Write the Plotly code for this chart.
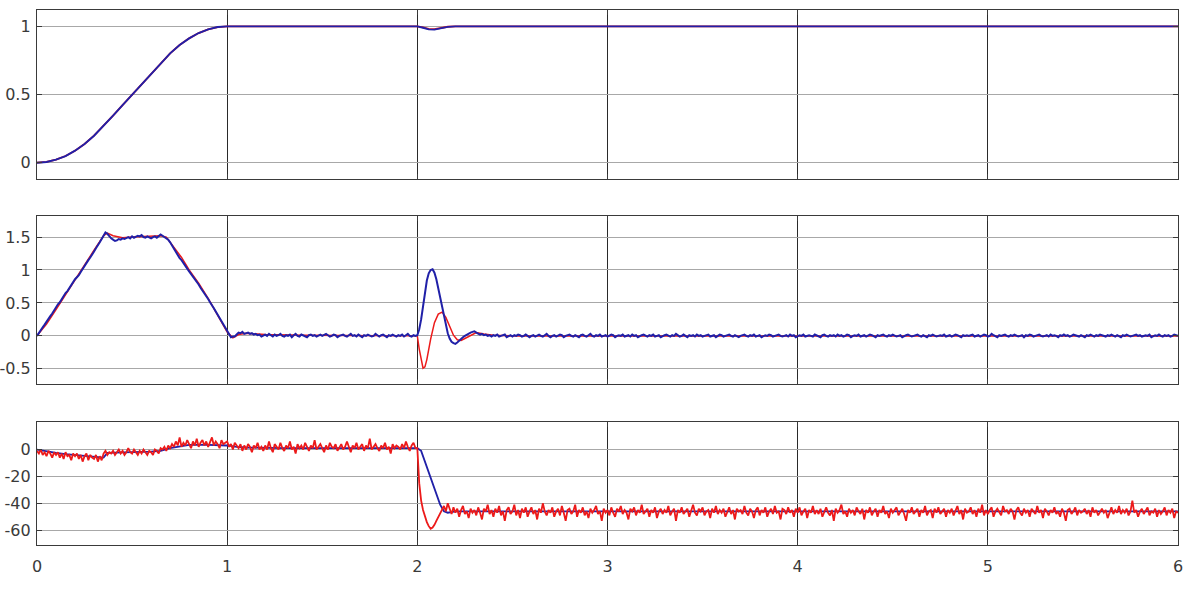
import plotly.graph_objects as go
from plotly.subplots import make_subplots

# ---------------- Panel 1: position ----------------
pos_t = [0, 0.05, 0.1, 0.15, 0.2, 0.25, 0.3, 0.35, 0.4, 0.45, 0.5, 0.55, 0.6, 0.65,
         0.7, 0.75, 0.8, 0.85, 0.9, 0.95, 1.0, 1.5, 2.0, 2.03, 2.06, 2.09, 2.12, 2.16, 2.2, 3, 6]
pos_blue = [0, 0.0055, 0.022, 0.049, 0.088, 0.137, 0.198, 0.269, 0.346, 0.423, 0.5, 0.577,
            0.654, 0.731, 0.802, 0.863, 0.912, 0.951, 0.978, 0.995, 1.0, 1.0, 1.0, 0.99,
            0.978, 0.976, 0.985, 0.996, 1.0, 1.0, 1.0]
pos_red = [0, 0.0055, 0.022, 0.049, 0.088, 0.137, 0.198, 0.269, 0.346, 0.423, 0.5, 0.577,
           0.654, 0.731, 0.802, 0.863, 0.912, 0.951, 0.978, 0.995, 1.0, 1.0, 1.0, 0.992,
           0.981, 0.979, 0.987, 0.997, 1.0, 1.0, 1.0]

# ---------------- Panel 2: velocity ----------------
vel_dt = 0.01
vel_blue = [
    0.00, 0.05, 0.09, 0.13, 0.17, 0.22, 0.27, 0.30, 0.34, 0.39,
    0.44, 0.48, 0.51, 0.56, 0.61, 0.65, 0.68, 0.73, 0.77, 0.82,
    0.86, 0.89, 0.92, 0.97, 1.02, 1.06, 1.11, 1.15, 1.19, 1.23,
    1.28, 1.33, 1.37, 1.42, 1.47, 1.52, 1.57, 1.55, 1.51, 1.48,
    1.46, 1.44, 1.45, 1.47, 1.46, 1.48, 1.47, 1.49, 1.50, 1.48,
    1.51, 1.49, 1.50, 1.52, 1.51, 1.53, 1.50, 1.49, 1.51, 1.50,
    1.48, 1.50, 1.51, 1.49, 1.52, 1.54, 1.52, 1.50, 1.49, 1.46,
    1.42, 1.37, 1.32, 1.28, 1.23, 1.18, 1.15, 1.10, 1.06, 1.02,
    0.98, 0.94, 0.90, 0.87, 0.82, 0.78, 0.73, 0.69, 0.65, 0.60,
    0.56, 0.51, 0.47, 0.42, 0.37, 0.32, 0.27, 0.22, 0.16, 0.11,
    0.06, 0.01, -0.02, -0.01, -0.01, 0.02, 0.05, 0.04, 0.06, 0.03,
    0.04, 0.05, 0.03, 0.04, 0.02, 0.03, 0.01, 0.02, -0.01, 0.01,
    0.02, 0.00, 0.03, 0.01, -0.01, 0.02, 0.00, 0.01, 0.03, 0.00,
    -0.01, 0.01, 0.00, 0.02, -0.02, 0.01, 0.03, 0.00, -0.01, 0.02,
    0.01, 0.00, -0.02, 0.01, 0.02, 0.00, 0.01, -0.01, 0.00, 0.02,
    0.00, 0.01, 0.03, 0.01, -0.01, 0.00, 0.02, 0.01, -0.02, 0.00,
    0.01, 0.02, 0.00, -0.01, 0.01, 0.03, 0.00, 0.01, -0.01, 0.02,
    0.00, -0.02, 0.01, 0.00, 0.02, 0.01, -0.01, 0.00, 0.03, 0.01,
    -0.01, 0.01, 0.02, 0.00, -0.02, 0.01, 0.00, 0.02, 0.01, -0.01,
    0.01, 0.00, 0.02, -0.01, 0.01, 0.03, 0.00, -0.01, 0.01, 0.00,
    0.01, 0.10, 0.25, 0.45, 0.66, 0.84, 0.95, 1.00, 1.01, 0.96,
    0.86, 0.72, 0.57, 0.42, 0.27, 0.14, 0.04, -0.04, -0.09, -0.11,
    -0.12, -0.10, -0.07, -0.04, -0.02, 0.00, 0.02, 0.03, 0.05, 0.06,
    0.07, 0.05, 0.04, 0.02, 0.03, 0.01, 0.02, 0.00, 0.01, -0.01,
    0.01, 0.00, 0.02, -0.01, 0.00, 0.01, 0.02, -0.02, 0.00, 0.01,
    -0.01, 0.01, 0.00, 0.02, 0.01, -0.01, 0.00, 0.02, 0.00, -0.02,
    0.00, 0.01, -0.01, 0.01, 0.02, 0.00, -0.01, 0.01, 0.03, 0.00,
    -0.02, 0.00, 0.01, -0.01, 0.00, 0.02, 0.01, -0.02, 0.00, 0.01,
    0.02, 0.00, -0.01, 0.01, 0.00, -0.02, 0.01, 0.02, 0.00, -0.01,
    0.01, 0.03, 0.00, -0.01, 0.01, 0.00, 0.02, -0.01, 0.00, 0.01,
    -0.01, 0.00, 0.02, 0.01, -0.02, 0.00, 0.01, 0.00, 0.02, -0.01,
    0.00, 0.01, -0.01, 0.02, 0.00, 0.01, -0.02, 0.00, 0.01, 0.02,
    0.00, -0.01, 0.01, 0.00, 0.02, -0.01, 0.00, 0.01, -0.02, 0.00,
    0.01, 0.02, 0.00, -0.01, 0.01, 0.00, 0.03, 0.01, -0.01, 0.00,
    0.02, 0.00, -0.02, 0.01, 0.00, 0.01, -0.01, 0.02, 0.00, 0.01,
    -0.01, 0.00, 0.01, 0.02, -0.01, 0.00, 0.01, -0.02, 0.00, 0.02,
    0.01, -0.01, 0.00, 0.01, 0.02, 0.00, -0.01, 0.01, 0.00, -0.02,
    0.00, 0.01, 0.02, 0.00, -0.01, 0.01, 0.00, 0.02, -0.01, 0.00,
    0.01, -0.02, 0.00, 0.01, 0.00, 0.02, 0.01, -0.01, 0.00, 0.01,
    0.02, 0.00, -0.01, 0.00, 0.01, -0.01, 0.02, 0.00, 0.01, -0.02,
    0.00, 0.01, 0.00, 0.02, -0.01, 0.00, 0.01, 0.00, -0.01, 0.02,
    0.01, 0.00, -0.02, 0.01, 0.02, 0.00, -0.01, 0.01, 0.00, 0.01,
    -0.01, 0.02, 0.00, 0.01, -0.01, 0.00, 0.02, 0.01, -0.02, 0.00,
    0.01, 0.00, 0.02, -0.01, 0.00, 0.01, -0.01, 0.00, 0.02, 0.01,
    0.00, -0.02, 0.01, 0.00, 0.01, 0.02, 0.00, -0.01, 0.01, 0.00,
    0.02, 0.01, -0.01, 0.00, 0.01, -0.02, 0.00, 0.01, 0.02, 0.00,
    -0.01, 0.00, 0.01, 0.02, 0.00, -0.01, 0.01, 0.00, -0.02, 0.01,
    0.00, 0.02, 0.01, -0.01, 0.00, 0.01, 0.00, 0.02, -0.01, 0.00,
    0.01, -0.01, 0.00, 0.02, 0.01, 0.00, -0.02, 0.01, 0.00, 0.01,
    0.00, 0.01, 0.02, -0.01, 0.00, 0.01, -0.01, 0.00, 0.02, 0.01,
    -0.01, 0.00, 0.03, 0.01, 0.00, -0.02, 0.01, 0.00, 0.01, 0.02,
    0.00, -0.01, 0.01, 0.00, 0.02, 0.01, -0.01, 0.00, 0.01, -0.02,
    0.01, 0.00, 0.02, 0.01, -0.01, 0.00, 0.01, 0.02, 0.00, -0.01,
    0.00, 0.01, -0.01, 0.02, 0.00, 0.01, 0.00, -0.02, 0.01, 0.00,
    0.02, 0.00, 0.01, -0.01, 0.00, 0.02, 0.01, 0.00, -0.01, 0.01,
    0.00, -0.02, 0.01, 0.00, 0.02, 0.00, -0.01, 0.01, 0.00, 0.02,
    0.01, 0.00, -0.01, 0.01, 0.00, 0.02, 0.00, -0.01, 0.01, 0.00,
    -0.02, 0.01, 0.00, 0.02, 0.01, -0.01, 0.00, 0.01, 0.02, 0.00,
    0.01, -0.01, 0.00, 0.01, 0.00, 0.02, -0.02, 0.00, 0.01, 0.00,
    0.02, 0.00, -0.01, 0.01, 0.00, 0.01, -0.01, 0.00, 0.02, 0.01,
    0.00,
]
vel_red_t = [0, 0.05, 0.1, 0.15, 0.2, 0.25, 0.3, 0.35, 0.37, 0.4, 0.45, 0.5, 0.55, 0.6,
             0.65, 0.68, 0.72, 0.76, 0.8, 0.85, 0.9, 0.95, 1.0, 1.03, 1.06, 1.1, 1.2, 1.4,
             1.6, 1.8, 2.0, 2.01, 2.02, 2.03, 2.04, 2.05, 2.07, 2.09, 2.11, 2.13, 2.15,
             2.17, 2.19, 2.21, 2.23, 2.25, 2.28, 2.31, 2.35, 2.4, 2.5, 3, 4, 5, 6]
vel_red = [0, 0.18, 0.40, 0.63, 0.85, 1.07, 1.30, 1.52, 1.56, 1.52, 1.49, 1.50, 1.51, 1.51,
           1.52, 1.50, 1.35, 1.19, 1.00, 0.80, 0.57, 0.32, 0.06, -0.03, 0.02, 0.04, 0.02,
           0.01, 0.01, 0.0, 0.0, -0.20, -0.38, -0.49, -0.47, -0.36, -0.05, 0.20, 0.33,
           0.36, 0.28, 0.14, 0.01, -0.06, -0.07, -0.04, 0.01, 0.05, 0.03, 0.01, 0.0, 0.0,
           0.0, 0.0, 0.0]

# ---------------- Panel 3: torque ----------------
tq_dt = 0.01
tq_red = [
    -1, -3, 0, -4, -2, -5, -1, -3, -6, -2,
    -4, -2, -6, -3, -7, -2, -5, -4, -8, -3,
    -5, -3, -7, -4, -9, -5, -3, -8, -4, -6,
    -7, -4, -9, -5, -8, -3, -1, -4, -2, -3,
    -1, -4, -2, 0, -3, -1, -4, -2, 1, -2,
    -3, 0, -2, -4, -1, -3, 0, -2, -4, -1,
    -2, -4, 0, -1, -3, 1, 0, 2, -1, 3,
    1, 4, 2, 6, 3, 9, 2, 5, 3, 7,
    4, 1, 6, 3, 8, 2, 5, 7, 3, 6,
    2, 5, 9, 3, 6, 4, 1, 7, 4, 5,
    6, 2, 4, 0, 5, 3, 1, 4, -1, 3,
    0, 4, 2, -2, 3, 1, 5, 0, 2, -1,
    3, 0, 6, 1, -2, 4, 2, 0, 5, 1,
    -1, 3, 1, 6, 0, 2, -3, 4, 1, 3,
    0, 5, 2, -1, 3, 1, 7, 0, 2, 4,
    1, -2, 3, 0, 5, 2, 1, 4, -1, 2,
    4, 0, 2, 6, 1, -2, 3, 1, 5, 0,
    2, 4, -1, 3, 1, 8, 0, 2, 4, 1,
    -1, 3, 1, 5, 0, 2, -3, 4, 1, 3,
    2, 0, 4, 1, 6, 2, -1, 3, 5, 1,
    1, -25, -38, -45, -50, -54, -57, -59, -58, -56,
    -53, -50, -47, -44, -42, -46, -40, -44, -48, -43,
    -47, -44, -50, -45, -42, -48, -46, -51, -44, -47,
    -45, -49, -43, -47, -52, -44, -46, -41, -48, -45,
    -50, -44, -47, -42, -49, -46, -53, -45, -43, -48,
    -46, -41, -49, -45, -51, -44, -47, -43, -50, -46,
    -43, -48, -45, -52, -44, -47, -40, -46, -49, -45,
    -47, -43, -50, -46, -44, -49, -42, -47, -53, -45,
    -44, -48, -46, -41, -50, -45, -47, -43, -49, -46,
    -51, -44, -47, -45, -42, -48, -46, -53, -44, -47,
    -45, -49, -43, -47, -50, -44, -46, -42, -48, -45,
    -47, -52, -44, -46, -43, -49, -45, -47, -41, -48,
    -46, -44, -50, -45, -47, -43, -51, -46, -44, -48,
    -45, -47, -42, -49, -46, -44, -53, -45, -47, -43,
    -48, -46, -44, -50, -45, -41, -47, -49, -44, -46,
    -43, -49, -46, -45, -51, -44, -47, -42, -48, -45,
    -47, -44, -50, -46, -43, -48, -45, -52, -44, -46,
    -45, -48, -42, -47, -49, -44, -46, -51, -45, -43,
    -49, -45, -47, -43, -50, -46, -44, -48, -42, -47,
    -46, -52, -44, -45, -48, -43, -47, -45, -50, -44,
    -47, -43, -49, -46, -44, -51, -45, -47, -42, -48,
    -45, -48, -44, -50, -46, -43, -47, -49, -45, -53,
    -44, -47, -45, -41, -48, -46, -50, -44, -47, -45,
    -49, -43, -46, -48, -44, -52, -45, -47, -43, -49,
    -46, -44, -50, -45, -47, -42, -48, -46, -51, -44,
    -47, -45, -43, -49, -46, -44, -48, -53, -45, -47,
    -43, -48, -46, -44, -50, -45, -47, -42, -49, -46,
    -45, -51, -44, -47, -43, -48, -46, -44, -50, -45,
    -47, -44, -49, -46, -42, -48, -45, -52, -44, -47,
    -46, -43, -48, -45, -50, -44, -47, -41, -49, -45,
    -48, -45, -43, -50, -46, -44, -47, -49, -42, -46,
    -45, -48, -44, -46, -52, -45, -43, -47, -49, -44,
    -47, -45, -50, -44, -46, -48, -42, -47, -45, -51,
    -44, -46, -49, -45, -47, -43, -48, -46, -50, -44,
    -47, -53, -45, -44, -48, -46, -43, -49, -45, -47,
    -46, -44, -48, -45, -50, -43, -47, -45, -49, -46,
    -44, -47, -45, -51, -46, -43, -48, -45, -47, -42,
    -48, -45, -47, -44, -49, -46, -38, -47, -45, -50,
    -46, -44, -48, -45, -43, -49, -46, -47, -44, -50,
    -45, -48, -46, -43, -49, -45, -47, -44, -51, -46,
    -47,
]
tq_blue_t = [0, 0.05, 0.1, 0.15, 0.2, 0.25, 0.3, 0.35, 0.37, 0.4,
             0.5, 0.6, 0.65, 0.7, 0.75, 0.8, 0.9, 1.0, 1.05, 1.1,
             1.3, 1.5, 1.7, 1.9, 2.0, 2.02, 2.04, 2.06, 2.08, 2.10,
             2.12, 2.14, 2.16, 2.2, 2.3, 2.5, 3, 3.5, 4, 4.5,
             5, 5.5, 6]
tq_blue = [0, -1.5, -2.5, -3.5, -4, -5, -5.5, -6, -2.5, -2.5,
           -2, -1.5, -1, 1, 2.5, 3.5, 3.5, 3, 2, 1.5,
           1, 1, 1.5, 1, 1, -1, -9, -17, -25, -33,
           -41, -46, -47, -46, -46, -46, -46, -46, -46, -46,
           -46, -46, -46]

x_ticks = [0, 1, 2, 3, 4, 5, 6]
y1_ticks = [0, 0.5, 1]
y2_ticks = [-0.5, 0, 0.5, 1, 1.5]
y3_ticks = [-60, -40, -20, 0]

BLUE = "#2020a8"
RED = "#ec1a1a"

vel_t = [round(i * vel_dt, 2) for i in range(len(vel_blue))]
tq_t = [round(i * tq_dt, 2) for i in range(len(tq_red))]

fig = make_subplots(rows=3, cols=1, shared_xaxes=False)

fig.add_trace(go.Scatter(x=pos_t, y=pos_red, mode="lines", line=dict(color=RED, width=1.8)), 1, 1)
fig.add_trace(go.Scatter(x=pos_t, y=pos_blue, mode="lines", line=dict(color=BLUE, width=1.9)), 1, 1)

fig.add_trace(go.Scatter(x=vel_red_t, y=vel_red, mode="lines", line=dict(color=RED, width=1.5)), 2, 1)
fig.add_trace(go.Scatter(x=vel_t, y=vel_blue, mode="lines", line=dict(color=BLUE, width=2)), 2, 1)

fig.add_trace(go.Scatter(x=tq_blue_t, y=tq_blue, mode="lines", line=dict(color=BLUE, width=1.8)), 3, 1)
fig.add_trace(go.Scatter(x=tq_t, y=tq_red, mode="lines", line=dict(color=RED, width=1.8)), 3, 1)

domains = [(0.684, 1.0), (0.301, 0.615), (0.0, 0.230)]
yranges = [(-0.12, 1.12), (-0.73, 1.82), (-71, 20.5)]
yticks = [y1_ticks, y2_ticks, y3_ticks]
ytext = [["0", "0.5", "1"], ["-0.5", "0", "0.5", "1", "1.5"], ["-60", "-40", "-20", "0"]]

axis_font = dict(family="DejaVu Sans, Liberation Sans, sans-serif", size=16, color="#3a3a3a")

for i in range(3):
    n = "" if i == 0 else str(i + 1)
    fig.layout["xaxis" + n].update(
        range=[0, 6], tickvals=x_ticks, ticktext=[str(v) for v in x_ticks],
        showticklabels=(i == 2), showgrid=True, gridcolor="#2a2a2a", gridwidth=1,
        showline=True, linecolor="#3a3a3a", linewidth=1.3, mirror="ticks",
        ticks="inside", ticklen=5, tickcolor="#3a3a3a", zeroline=False,
        tickfont=axis_font, automargin=False, ticklabelstandoff=7,
    )
    fig.layout["yaxis" + n].update(
        domain=list(domains[i]), range=list(yranges[i]), tickvals=yticks[i], ticktext=ytext[i],
        showgrid=True, gridcolor="#a8a8a8", gridwidth=1.2,
        showline=True, linecolor="#3a3a3a", linewidth=1.3, mirror="ticks",
        ticks="inside", ticklen=5, tickcolor="#3a3a3a", zeroline=False,
        tickfont=axis_font, automargin=False, ticklabelstandoff=2,
    )

fig.update_layout(
    width=1198, height=601,
    margin=dict(l=37, r=20, t=10, b=56),
    paper_bgcolor="white", plot_bgcolor="white",
    showlegend=False,
)

# remove the default 8px page margin so the figure fills the window exactly
fig.write_html(
    "out.html",
    config={"displayModeBar": False},
    post_script="document.body.style.margin='0';document.body.style.overflow='hidden';",
)
